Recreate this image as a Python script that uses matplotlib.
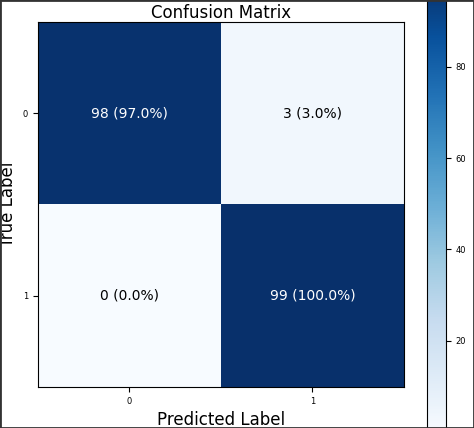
import matplotlib
matplotlib.use("Agg")
import matplotlib.pyplot as plt
import numpy as np

classes = ["0", "1"]
counts = [[98, 3], [0, 99]]
pcts = [[97.0, 3.0], [0.0, 100.0]]
cbar_ticks = [20, 40, 60, 80]

cm = np.array(counts)
fig = plt.figure(figsize=(4.74, 4.28), dpi=100)
ax = fig.add_axes([0.080, 0.096, 0.772, 0.853])
im = ax.imshow(cm, cmap="Blues", vmin=0, vmax=99, aspect="auto")
for i in range(2):
    for j in range(2):
        ax.text(j, i, f"{counts[i][j]} ({pcts[i][j]:.1f}%)", ha="center", va="center",
                fontsize=10, color="white" if cm[i, j] > 49 else "black")
ax.set_xticks(range(2)); ax.set_xticklabels(classes, fontsize=6)
ax.set_yticks(range(2)); ax.set_yticklabels(classes, fontsize=6)
ax.set_xlabel("Predicted Label", fontsize=12)
ax.set_ylabel("True Label", fontsize=12)
ax.set_title("Confusion Matrix", fontsize=12, pad=2)
cax = fig.add_axes([427/474, -4/428, 19/474, 452/428])
cb = fig.colorbar(im, cax=cax, ticks=cbar_ticks)
cb.ax.tick_params(labelsize=6)
fig.patches.append(plt.Rectangle((0, 0), 1, 1, transform=fig.transFigure, fill=False,
                                 edgecolor="#333333", linewidth=2))
fig.savefig("out.png", dpi=100)
